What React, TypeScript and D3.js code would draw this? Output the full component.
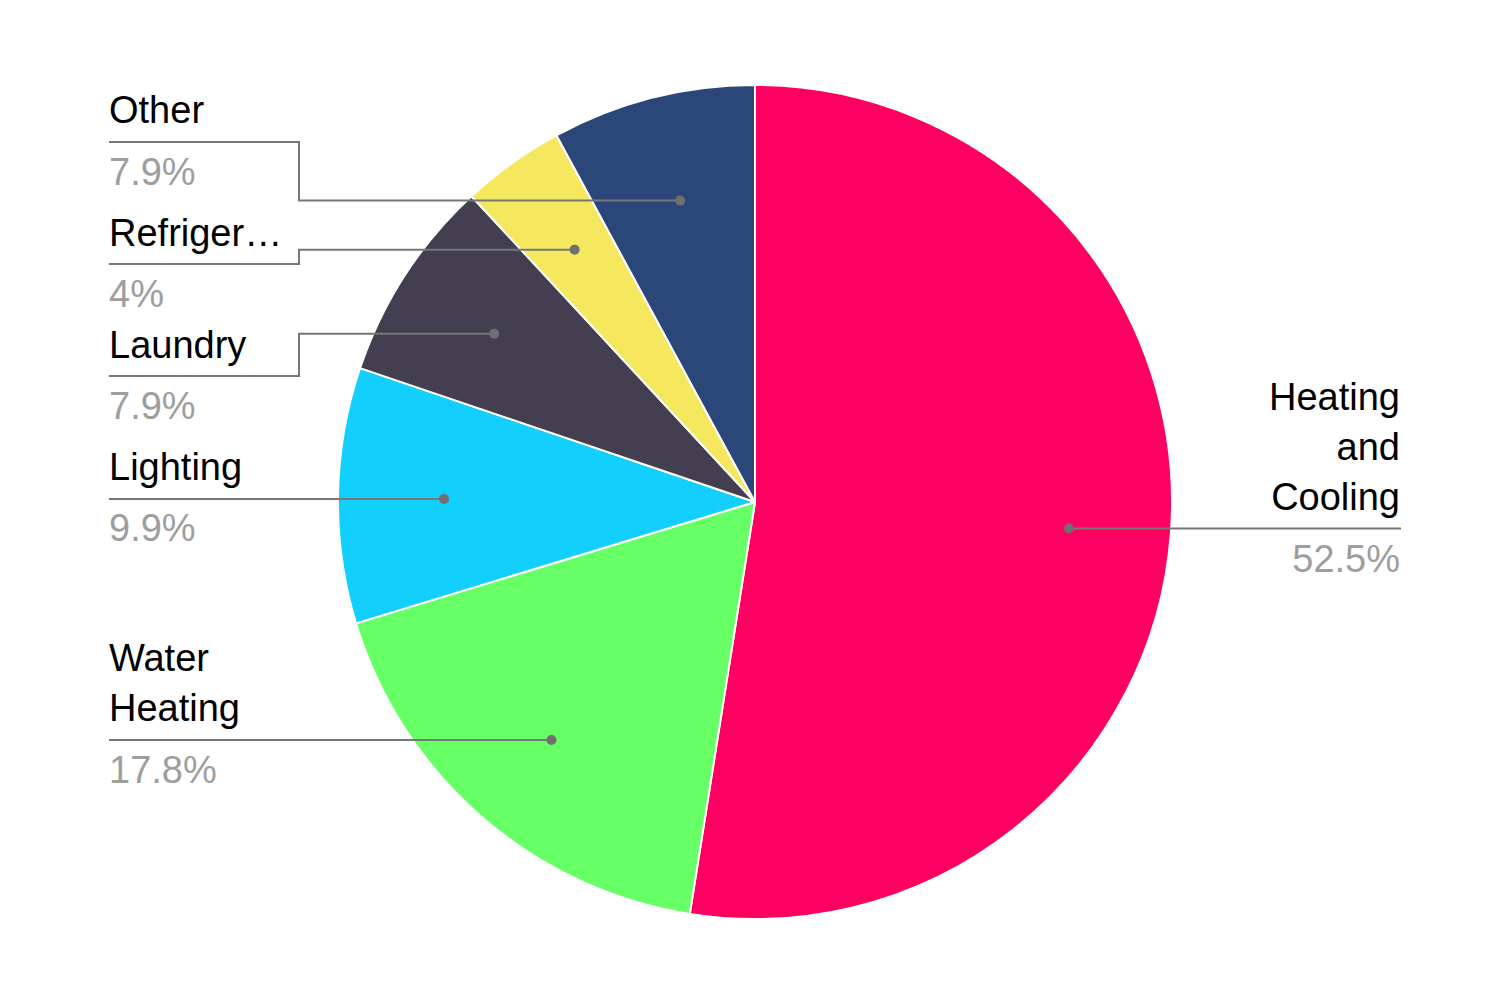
import React from "react";
import * as d3 from "d3";

const categories = ["Heating and Cooling", "Water Heating", "Lighting", "Laundry", "Refrigerator", "Other"];
const values = [52.5, 17.8, 9.9, 7.9, 4, 7.9];
const valueLabels = ["52.5%", "17.8%", "9.9%", "7.9%", "4%", "7.9%"];
const colors = ["#FF0062", "#66FF66", "#13CFFD", "#433E50", "#F5E85E", "#2B477A"];
const displayNames = [["Heating", "and", "Cooling"], ["Water", "Heating"], ["Lighting"], ["Laundry"], ["Refriger…"], ["Other"]];

// label layout: side, first name baseline, leader line y (at text), elbow x (null = straight)
const labelLayout = [
  { side: "right", nameY: 410, lineY: 528, elbowX: null },
  { side: "left", nameY: 671, lineY: 740, elbowX: null },
  { side: "left", nameY: 480, lineY: 498, elbowX: null },
  { side: "left", nameY: 358, lineY: 376, elbowX: 299 },
  { side: "left", nameY: 246, lineY: 264, elbowX: 299 },
  { side: "left", nameY: 123, lineY: 142, elbowX: 299 },
];

const W = 1500, H = 1000;
const cx = 755, cy = 502, R = 417, RL = 313;
const lcx = 757, lcy = 504;
const leftX = 109, rightX = 1400;
const FS = 38, LH = 50;

export default function App() {
  const pie = d3.pie<number>().sort(null).value((d) => d);
  const arcs = pie(values);
  const arc = d3.arc<d3.PieArcDatum<number>>().innerRadius(0).outerRadius(R);
  const labelArc = d3.arc<d3.PieArcDatum<number>>().innerRadius(RL).outerRadius(RL);
  const font = "'Liberation Sans', Arial, Helvetica, sans-serif";

  return (
    <svg width={W} height={H} style={{ position: "absolute", left: 0, top: 0, background: "#fff" }} fontFamily={font}>
      <rect width={W} height={H} fill="#fff" />
      <g transform={`translate(${cx},${cy})`}>
        {arcs.map((a, i) => (
          <path key={i} d={arc(a) || ""} fill={colors[i]} stroke="#fff" strokeWidth={2} strokeLinejoin="round" />
        ))}
      </g>
      {arcs.map((a, i) => {
        const [px, py] = labelArc.centroid(a);
        const dx = lcx + px, dy = lcy + py;
        const L = labelLayout[i];
        const names = displayNames[i];
        let pts: [number, number][];
        if (L.side === "right") {
          pts = [[dx, dy], [rightX + 1, dy]];
        } else if (L.elbowX == null) {
          pts = [[dx, dy], [leftX, dy]];
        } else {
          pts = [[dx, dy], [L.elbowX, dy], [L.elbowX, L.lineY], [leftX, L.lineY]];
        }
        const line = d3.line()(pts) || "";
        const lineRefY = L.side === "right" ? dy : L.lineY;
        const anchor = L.side === "right" ? "end" : "start";
        const tx = L.side === "right" ? rightX : leftX;
        return (
          <g key={i}>
            <path d={line} fill="none" stroke="#777" strokeWidth={2} />
            <circle cx={dx} cy={dy} r={5} fill="#6f6f6f" />
            {names.map((n, j) => (
              <text key={j} x={tx} y={L.nameY + j * LH} fontSize={FS} fill="#000" textAnchor={anchor}>{n}</text>
            ))}
            <text x={tx} y={lineRefY + 43} fontSize={FS} fill="#9e9e9e" textAnchor={anchor}>{valueLabels[i]}</text>
          </g>
        );
      })}
    </svg>
  );
}
